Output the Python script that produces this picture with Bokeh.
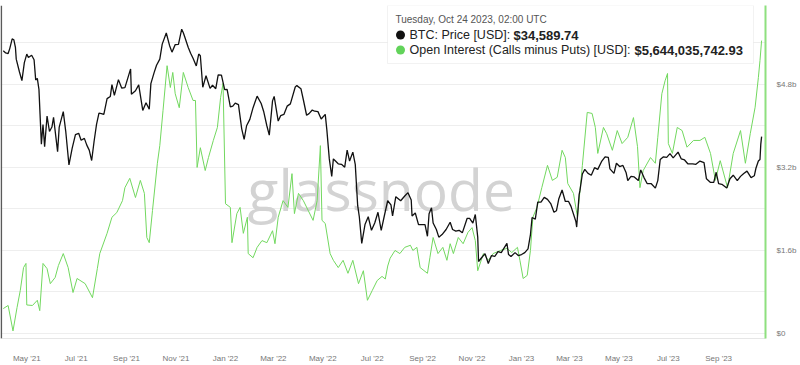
import pandas as pd
from bokeh.plotting import figure
from bokeh.models import Range1d, LogScale, FixedTicker, Label, BoxAnnotation, Span
from bokeh.embed import file_html
from bokeh.resources import INLINE

# ---------------- data ----------------
btc_dates = [
    "2021-04-02", "2021-04-05", "2021-04-08", "2021-04-10", "2021-04-13", "2021-04-15", "2021-04-17",
    "2021-04-18", "2021-04-22",
    "2021-04-25", "2021-04-28", "2021-05-01", "2021-05-03", "2021-05-07", "2021-05-10", "2021-05-12",
    "2021-05-14", "2021-05-16", "2021-05-19", "2021-05-21", "2021-05-23", "2021-05-26", "2021-05-29",
    "2021-06-01", "2021-06-03", "2021-06-08", "2021-06-10", "2021-06-15", "2021-06-18", "2021-06-22",
    "2021-06-26", "2021-06-30", "2021-07-04", "2021-07-07", "2021-07-11", "2021-07-14", "2021-07-17",
    "2021-07-20", "2021-07-23", "2021-07-26", "2021-07-29", "2021-08-01", "2021-08-04", "2021-08-08",
    "2021-08-12", "2021-08-14", "2021-08-17", "2021-08-22", "2021-08-26", "2021-08-30", "2021-09-02",
    "2021-09-06", "2021-09-07", "2021-09-12", "2021-09-16", "2021-09-21", "2021-09-25", "2021-09-29",
    "2021-10-01", "2021-10-05", "2021-10-08", "2021-10-12", "2021-10-15", "2021-10-20", "2021-10-24",
    "2021-10-27", "2021-10-31", "2021-11-04", "2021-11-08", "2021-11-10", "2021-11-12", "2021-11-16",
    "2021-11-19", "2021-11-22", "2021-11-26", "2021-11-29", "2021-12-01", "2021-12-04", "2021-12-08",
    "2021-12-13", "2021-12-16", "2021-12-20", "2021-12-23", "2021-12-27", "2021-12-31",
    "2022-01-03", "2022-01-07", "2022-01-10", "2022-01-13", "2022-01-17", "2022-01-21", "2022-01-24",
    "2022-01-27", "2022-01-31", "2022-02-04", "2022-02-09", "2022-02-14", "2022-02-17", "2022-02-21",
    "2022-02-24", "2022-02-28", "2022-03-02", "2022-03-07", "2022-03-10", "2022-03-14", "2022-03-18",
    "2022-03-22", "2022-03-28", "2022-03-30", "2022-04-04", "2022-04-07", "2022-04-11", "2022-04-14",
    "2022-04-18", "2022-04-21", "2022-04-25", "2022-04-29", "2022-05-04", "2022-05-06", "2022-05-09",
    "2022-05-12", "2022-05-14", "2022-05-16", "2022-05-20", "2022-05-24", "2022-05-28", "2022-05-31",
    "2022-06-03", "2022-06-07", "2022-06-10", "2022-06-13", "2022-06-15", "2022-06-18", "2022-06-22",
    "2022-06-26", "2022-06-30", "2022-07-04", "2022-07-08", "2022-07-12", "2022-07-16", "2022-07-20",
    "2022-07-24", "2022-07-26", "2022-07-30", "2022-08-05", "2022-08-10", "2022-08-14", "2022-08-18",
    "2022-08-19", "2022-08-23", "2022-08-27", "2022-08-31", "2022-09-04", "2022-09-07", "2022-09-09",
    "2022-09-12", "2022-09-14", "2022-09-18", "2022-09-21", "2022-09-25", "2022-09-30", "2022-10-05",
    "2022-10-08", "2022-10-12", "2022-10-16", "2022-10-20", "2022-10-26", "2022-10-29", "2022-11-02",
    "2022-11-05", "2022-11-08", "2022-11-09", "2022-11-13", "2022-11-17", "2022-11-21", "2022-11-25",
    "2022-11-29", "2022-12-03", "2022-12-07", "2022-12-14", "2022-12-16", "2022-12-19", "2022-12-24",
    "2022-12-28", "2023-01-01", "2023-01-05", "2023-01-09", "2023-01-12", "2023-01-14", "2023-01-18",
    "2023-01-21", "2023-01-25", "2023-01-29", "2023-02-02", "2023-02-06", "2023-02-10", "2023-02-13",
    "2023-02-16", "2023-02-20", "2023-02-24", "2023-02-28", "2023-03-03", "2023-03-09", "2023-03-10",
    "2023-03-13", "2023-03-14", "2023-03-17", "2023-03-20", "2023-03-24", "2023-03-28", "2023-04-01",
    "2023-04-05", "2023-04-10", "2023-04-14", "2023-04-18", "2023-04-20", "2023-04-25", "2023-04-28",
    "2023-05-02", "2023-05-06", "2023-05-10", "2023-05-12", "2023-05-16", "2023-05-20", "2023-05-25",
    "2023-05-28", "2023-06-01", "2023-06-05", "2023-06-10", "2023-06-15", "2023-06-18", "2023-06-21",
    "2023-06-25", "2023-06-29", "2023-07-03", "2023-07-07", "2023-07-13", "2023-07-17", "2023-07-21",
    "2023-07-25", "2023-07-31", "2023-08-04", "2023-08-09", "2023-08-14", "2023-08-17", "2023-08-22",
    "2023-08-26", "2023-08-29", "2023-09-01", "2023-09-05", "2023-09-11", "2023-09-15", "2023-09-19",
    "2023-09-24", "2023-09-28", "2023-10-02", "2023-10-06", "2023-10-11", "2023-10-15", "2023-10-17",
    "2023-10-20", "2023-10-22", "2023-10-23", "2023-10-24",
]
btc_price = [
    59000, 58200, 58000, 59800, 63500, 63200, 60300,
    56000, 51700,
    49000, 54800, 57800, 56600, 57400, 55800, 49200,
    49700, 46400, 33000, 37300, 32500, 39300, 35700,
    36700, 39000, 31500, 36700, 40400, 35800, 29000,
    32200, 35000, 35300, 33800, 34200, 32800, 31800,
    29800, 33600, 37300, 40000, 39900, 39700, 43800,
    44400, 47800, 44700, 49300, 46800, 46900, 49300,
    52700, 45000, 46000, 47700, 40700, 42700, 41000,
    48100, 51500, 53900, 56000, 61500, 65900, 61000,
    58500, 61300, 61400, 67500, 66000, 64100, 60300,
    58100, 56300, 53700, 57800, 57200, 47000, 50500,
    46700, 47600, 46600, 50800, 50700, 46300,
    46400, 41600, 41800, 42600, 42200, 36300, 34000,
    37000, 38500, 41400, 44500, 42500, 40500, 37000,
    34900, 43200, 44400, 38100, 39400, 39700, 41800,
    42400, 47100, 47500, 46600, 43500, 39500, 39900,
    40800, 40500, 40400, 38600, 39700, 36000, 30100,
    27000, 30100, 29800, 29200, 29100, 28600, 31800,
    29700, 31400, 29100, 22500, 21000, 17800, 20000,
    21000, 19300, 20200, 21600, 19300, 21200, 23200,
    22600, 21100, 23800, 23200, 23900, 24400, 23300,
    21100, 21500, 20000, 20000, 20000, 18600, 21400,
    22200, 20200, 19400, 18500, 18800, 19400, 20300,
    19400, 19200, 19300, 19000, 20800, 20800, 20200,
    21300, 18500, 15900, 16300, 16700, 15700, 16500,
    16400, 16900, 16800, 17800, 16600, 16400, 16800,
    16500, 16600, 16800, 17200, 18800, 20900, 20700,
    23000, 23000, 23700, 23400, 22800, 21600, 21800,
    23500, 24800, 23100, 23100, 22400, 20400, 19700,
    24100, 24700, 27400, 28200, 27500, 27200, 28500,
    28200, 29700, 30500, 30400, 28300, 27500, 29300,
    28700, 28900, 27600, 26300, 27000, 26900, 26300,
    28100, 26800, 25800, 25800, 25100, 26300, 30000,
    30500, 30400, 31100, 30300, 31400, 30100, 29900,
    29200, 29200, 29100, 29700, 29400, 26600, 26000,
    26000, 27700, 25800, 25700, 25100, 26600, 27200,
    26300, 27000, 27500, 27900, 26800, 27100, 28400,
    29700, 30000, 33000, 34590,
]

oi_dates = [
    "2021-04-02", "2021-04-08", "2021-04-14", "2021-04-19", "2021-04-23", "2021-04-27", "2021-04-30",
    "2021-05-01", "2021-05-08", "2021-05-14", "2021-05-17", "2021-05-21", "2021-05-26", "2021-05-30",
    "2021-06-05", "2021-06-09", "2021-06-15", "2021-06-21", "2021-06-27", "2021-07-02", "2021-07-12",
    "2021-07-21", "2021-07-27", "2021-07-30", "2021-08-08", "2021-08-14", "2021-08-20", "2021-08-27",
    "2021-08-30", "2021-09-05", "2021-09-12", "2021-09-18", "2021-09-23", "2021-09-26", "2021-09-29",
    "2021-10-03", "2021-10-09", "2021-10-12", "2021-10-16", "2021-10-21", "2021-10-25", "2021-10-28",
    "2021-10-31", "2021-11-05", "2021-11-10", "2021-11-16", "2021-11-22", "2021-11-25", "2021-11-27",
    "2021-12-01", "2021-12-07", "2021-12-11", "2021-12-17", "2021-12-22", "2021-12-26", "2021-12-29",
    "2022-01-01", "2022-01-07", "2022-01-09", "2022-01-15", "2022-01-19", "2022-01-23", "2022-01-28",
    "2022-01-29", "2022-02-04", "2022-02-09", "2022-02-15", "2022-02-21", "2022-02-28", "2022-03-03",
    "2022-03-07", "2022-03-13", "2022-03-19", "2022-03-24", "2022-03-27", "2022-04-01", "2022-04-07",
    "2022-04-13", "2022-04-19", "2022-04-24", "2022-04-28", "2022-04-30", "2022-05-04", "2022-05-10",
    "2022-05-14", "2022-05-20", "2022-05-26", "2022-06-01", "2022-06-07", "2022-06-14", "2022-06-20",
    "2022-06-25", "2022-07-01", "2022-07-07", "2022-07-13", "2022-07-17", "2022-07-20", "2022-07-23",
    "2022-07-29", "2022-08-04", "2022-08-10", "2022-08-17", "2022-08-20", "2022-08-25", "2022-08-29",
    "2022-09-07", "2022-09-10", "2022-09-14", "2022-09-20", "2022-09-26", "2022-10-01", "2022-10-05",
    "2022-10-09", "2022-10-15", "2022-10-21", "2022-10-27", "2022-11-01", "2022-11-05", "2022-11-08",
    "2022-11-15", "2022-11-21", "2022-11-27", "2022-12-06", "2022-12-14", "2022-12-20", "2022-12-27",
    "2022-12-30", "2023-01-03", "2023-01-08", "2023-01-12", "2023-01-15", "2023-01-20", "2023-01-26",
    "2023-02-02", "2023-02-08", "2023-02-14", "2023-02-20", "2023-02-24", "2023-02-27", "2023-03-06",
    "2023-03-11", "2023-03-17", "2023-03-23", "2023-03-29", "2023-04-02", "2023-04-05", "2023-04-12",
    "2023-04-16", "2023-04-23", "2023-04-29", "2023-05-05", "2023-05-12", "2023-05-19", "2023-05-24",
    "2023-05-27", "2023-05-31", "2023-06-09", "2023-06-15", "2023-06-18", "2023-06-23", "2023-06-27",
    "2023-06-30", "2023-07-01", "2023-07-06", "2023-07-12", "2023-07-18", "2023-07-24", "2023-08-01",
    "2023-08-09", "2023-08-15", "2023-08-22", "2023-08-28", "2023-09-03", "2023-09-12", "2023-09-19",
    "2023-09-28", "2023-10-04", "2023-10-10", "2023-10-16", "2023-10-20", "2023-10-22", "2023-10-24",
]
oi_billions = [
    0.48, 0.54, 0.05, 0.50, 0.83, 1.27, 1.35,
    0.55, 0.54, 0.64, 0.44, 1.35, 1.25, 0.96,
    1.08, 1.31, 1.54, 1.27, 0.79, 1.06, 0.96,
    0.69, 1.25, 1.54, 1.93, 2.24, 2.33, 2.56,
    2.81, 2.99, 2.62, 2.95, 2.70, 1.85, 1.75,
    2.37, 3.28, 3.62, 4.30, 5.16, 4.74, 5.03,
    4.62, 4.35, 5.03, 4.74, 4.49, 4.49, 3.20,
    3.58, 3.14, 3.39, 3.72, 3.97, 4.55, 4.82,
    2.50, 2.43, 1.75, 2.31, 2.43, 1.93, 2.24,
    1.54, 1.46, 1.66, 1.79, 1.75, 1.98, 1.73,
    2.24, 2.56, 2.43, 3.08, 2.31, 2.70, 2.56,
    2.37, 2.18, 2.56, 3.62, 2.18, 2.12, 1.54,
    1.41, 1.27, 1.41, 1.16, 1.41, 0.96, 1.21,
    0.64, 0.83, 1.02, 1.10, 1.05, 1.30, 1.45,
    1.60, 1.54, 1.66, 1.70, 1.60, 1.66, 1.27,
    1.16, 1.46, 1.85, 1.54, 1.66, 1.41, 1.73,
    1.54, 1.85, 1.73, 1.95, 2.04, 1.79, 1.21,
    1.54, 1.41, 1.54, 1.60, 1.64, 1.56, 1.66,
    1.41, 1.06, 1.12, 1.60, 2.24, 2.43, 2.81,
    3.24, 2.95, 3.01, 3.53, 3.39, 2.89, 2.70,
    2.24, 3.24, 4.26, 4.24, 3.97, 3.47, 3.97,
    3.85, 3.53, 3.91, 3.66, 3.78, 4.16, 3.60,
    2.81, 3.14, 3.39, 3.28, 3.78, 4.62, 4.87,
    5.01, 3.66, 3.47, 3.97, 3.91, 3.59, 3.72,
    3.72, 3.78, 3.47, 2.95, 3.33, 2.81, 3.47,
    3.91, 3.28, 3.85, 4.36, 4.93, 5.26, 5.644,
]

x_tick_dates = ["2021-05-01", "2021-07-01", "2021-09-01", "2021-11-01", "2022-01-01",
                "2022-03-01", "2022-05-01", "2022-07-01", "2022-09-01", "2022-11-01",
                "2023-01-01", "2023-03-01", "2023-05-01", "2023-07-01", "2023-09-01"]
x_tick_labels = ["May '21", "Jul '21", "Sep '21", "Nov '21", "Jan '22", "Mar '22", "May '22",
                 "Jul '22", "Sep '22", "Nov '22", "Jan '23", "Mar '23", "May '23", "Jul '23",
                 "Sep '23"]
oi_tick_values_b = [0, 1.6, 3.2, 4.8]
oi_tick_labels = ["$0", "$1.6b", "$3.2b", "$4.8b"]
oi_grid_b = [0, 0.8, 1.6, 2.4, 3.2, 4.0, 4.8, 5.6]

tooltip_date = "Tuesday, Oct 24 2023, 02:00 UTC"
btc_label = "BTC: Price [USD]: "
btc_value = "$34,589.74"
oi_label = "Open Interest (Calls minus Puts) [USD]: "
oi_value = "$5,644,035,742.93"

# ---------------- layout ----------------
def ms(s):
    return pd.Timestamp(s).value / 1e6

X0, X1 = ms("2021-03-29 14:24"), ms("2023-10-28 19:12")
OI_LO, OI_HI = -0.0963e9, 6.320e9
P_LO, P_HI = 9845, 78200
FW, FH = 765, 333
TOP = 5
GREEN = "#72d85f"
FONT = "Liberation Sans"

def sx(page_x):
    return X0 + page_x / FW * (X1 - X0)

def sy(page_y):
    return OI_HI - (page_y - TOP) / FH * (OI_HI - OI_LO)

p = figure(frame_width=FW, frame_height=FH, x_axis_type="datetime",
           x_range=Range1d(X0, X1), y_range=Range1d(OI_LO, OI_HI),
           y_axis_location="right", output_backend="svg", toolbar_location=None,
           min_border_left=0, min_border_top=TOP, min_border_right=0, min_border_bottom=0,
           outline_line_color=None, background_fill_color="white", border_fill_color="white")
p.extra_y_ranges = {"price": Range1d(P_LO, P_HI)}
p.extra_y_scales = {"price": LogScale()}

# grid
p.xgrid.visible = False
p.ygrid.ticker = FixedTicker(ticks=[g * 1e9 for g in oi_grid_b])
p.ygrid.grid_line_color = "#eeeeee"

# watermark
p.add_layout(Label(x=sx(247), y=sy(188), text="glassnode", text_font="Open Sans",
                   text_font_size="57px", text_color="#d3d3d3", text_baseline="alphabetic",
                   level="underlay"))

# left edge line
p.add_layout(Span(location=sx(0.8), dimension="height", line_color="#5a5a5a", line_width=1.6))

# series
oi_x = pd.to_datetime(oi_dates)
oi_y = [v * 1e9 for v in oi_billions]
p.line(oi_x, oi_y, line_color=GREEN, line_width=1)
btc_x = pd.to_datetime(btc_dates)
p.line(btc_x, btc_price, y_range_name="price", line_color="#111111", line_width=1.3)

# axes
xa = p.xaxis[0]
xt = [ms(d) for d in x_tick_dates]
xa.ticker = FixedTicker(ticks=xt)
xa.major_label_overrides = {t: lab for t, lab in zip(xt, x_tick_labels)}
xa.axis_line_color = "#e6e6e6"
xa.major_tick_line_color = None
xa.minor_tick_line_color = None
xa.major_label_text_font = FONT
xa.major_label_text_font_size = "8px"
xa.major_label_text_color = "#777777"
xa.major_label_standoff = 9

ya = p.yaxis[0]
yt = [v * 1e9 for v in oi_tick_values_b]
ya.ticker = FixedTicker(ticks=yt)
ya.major_label_overrides = {t: lab for t, lab in zip(yt, oi_tick_labels)}
ya.axis_line_color = "#8ee07f"
ya.axis_line_width = 2
ya.major_tick_line_color = None
ya.minor_tick_line_color = None
ya.major_label_text_font = FONT
ya.major_label_text_font_size = "8px"
ya.major_label_text_color = "#777777"
ya.major_label_standoff = 5

# tooltip box
p.add_layout(BoxAnnotation(left=sx(387), right=sx(753), top=OI_HI, bottom=sy(63),
                           fill_color="white", fill_alpha=1.0, line_color="#d4d4d4",
                           line_width=1, level="underlay"))
p.scatter(x=[sx(400), sx(400)], y=[sy(34.5), sy(49.5)], size=9,
          color=["#111111", "#62d35a"], line_color=None)
p.add_layout(Label(x=sx(395), y=sy(19), text=tooltip_date, text_font=FONT,
                   text_font_size="10px", text_color="#555555", text_baseline="middle"))
p.add_layout(Label(x=sx(409), y=sy(34.5), text=btc_label, text_font=FONT,
                   text_font_size="12.5px", text_color="#222222", text_baseline="middle"))
p.add_layout(Label(x=sx(513), y=sy(34.5), text=btc_value, text_font=FONT,
                   text_font_size="13px", text_color="#222222", text_baseline="middle",
                   text_font_style="bold"))
p.add_layout(Label(x=sx(409), y=sy(49.5), text=oi_label, text_font=FONT,
                   text_font_size="12.5px", text_color="#222222", text_baseline="middle"))
p.add_layout(Label(x=sx(634), y=sy(49.5), text=oi_value, text_font=FONT,
                   text_font_size="13px", text_color="#222222", text_baseline="middle",
                   text_font_style="bold"))

open("out.html", "w").write(file_html(p, INLINE))
